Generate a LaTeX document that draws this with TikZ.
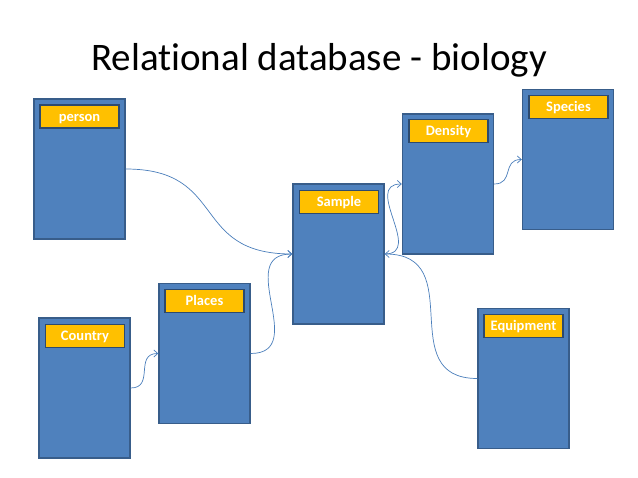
\documentclass[tikz,border=0pt]{standalone}
\usepackage{fontspec}
\setmainfont[Ligatures=NoCommon]{Carlito}
\usetikzlibrary{arrows.meta}
\definecolor{tblue}{HTML}{4F81BD}
\definecolor{tedge}{HTML}{385D8A}
\definecolor{tgold}{HTML}{FFC000}
\definecolor{tlink}{HTML}{4A7EBB}
\tikzset{
  table/.style={rectangle,draw=tedge,line width=1.4pt,fill=tblue,minimum width=91pt,minimum height=140pt,inner sep=0pt},
  tag/.style={rectangle,draw=tedge!80!black,line width=1.1pt,fill=tgold,minimum width=79pt,minimum height=23pt,inner sep=0pt,text height=10.5pt,text depth=0.5pt,text=white,font=\fontsize{14.5}{16}\selectfont\bfseries},
  link/.style={-{Straight Barb[length=4pt,width=7pt]},tlink,line width=0.7pt,looseness=1.4}
}
\begin{document}
\begin{tikzpicture}[x=1pt,y=-1pt]
\useasboundingbox (0,0) rectangle (638,478);
\node[font=\fontsize{39}{44}\selectfont] (title) at (319,60) {Relational database - biology};
% tables
\node[table] (person) at (79.5,169) {};
\node[tag] (personT) at (79.5,116.5) {person};
\node[table] (sample) at (338.5,254) {};
\node[tag] (sampleT) at (339,202) {Sample};
\node[table] (density) at (448,184) {};
\node[tag] (densityT) at (448.5,131) {Density};
\node[table] (species) at (568,159.5) {};
\node[tag] (speciesT) at (568.5,107) {Species};
\node[table] (country) at (84.5,388) {};
\node[tag] (countryT) at (85,336) {Country};
\node[table] (places) at (204.5,353.5) {};
\node[tag] (placesT) at (204.5,301) {Places};
\node[table] (equip) at (523.5,378.5) {};
\node[tag] (equipT) at (523.5,326) {Equipment};
% links
\draw[link] (person.east) to[out=0,in=180] (sample.west);
\draw[link] (country.east) to[out=0,in=180] (places.west);
\draw[link] (places.east) to[out=0,in=180] (sample.west);
\draw[link] (sample.east) to[out=0,in=180] (density.west);
\draw[link] (density.east) to[out=0,in=180] (species.west);
\draw[link] (equip.west) to[out=180,in=0] (sample.east);
\end{tikzpicture}
\end{document}
